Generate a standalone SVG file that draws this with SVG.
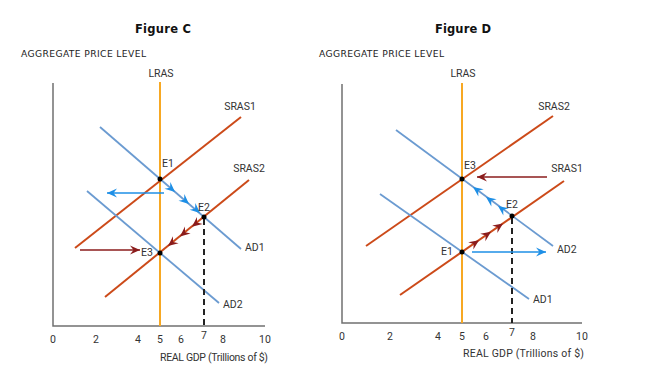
<svg xmlns="http://www.w3.org/2000/svg" width="655" height="383" viewBox="0 0 655 383">
<style>
.title{font-family:"DejaVu Sans","Liberation Sans",sans-serif;font-weight:bold;font-size:11.5px;fill:#111}
.ylab{font-family:"DejaVu Sans","Liberation Sans",sans-serif;font-size:9.2px;fill:#222}
.lab{font-family:Roboto,"Liberation Sans",sans-serif;font-size:10.5px;fill:#333}
.tick{font-family:Roboto,"Liberation Sans",sans-serif;font-size:10.5px;fill:#333;text-anchor:middle}
.axis{stroke:#707070;stroke-width:1.5;fill:none}
.lras{stroke:#f7a823;stroke-width:2;fill:none}
.sras{stroke:#cc4a19;stroke-width:2;fill:none}
.ad{stroke:#6b9bd1;stroke-width:1.8;fill:none}
.dash{stroke:#222;stroke-width:2;stroke-dasharray:6 4;fill:none}
.barr{stroke:#1e8fe6;stroke-width:1.5;fill:none}
.rarr{stroke:#8b1c1c;stroke-width:1.5;fill:none}
.bchev{fill:#1e8fe6}
.rchev{fill:#8b1c1c}
.pt{fill:#000}
</style>
<defs>
<path id="chev" d="M0,0 L-10,-4.5 L-6.5,0 L-10,4.5 Z"/>
<marker id="mb" viewBox="-11 -5 12 10" refX="0" refY="0" markerWidth="12" markerHeight="10" markerUnits="userSpaceOnUse" orient="auto"><path d="M0,0 L-10,-4.5 L-6.5,0 L-10,4.5 Z" fill="#1e8fe6"/></marker>
<marker id="mr" viewBox="-11 -5 12 10" refX="0" refY="0" markerWidth="12" markerHeight="10" markerUnits="userSpaceOnUse" orient="auto"><path d="M0,0 L-10,-4.5 L-6.5,0 L-10,4.5 Z" fill="#8b1c1c"/></marker>
</defs>
<rect width="655" height="383" fill="#fff"/>

<!-- Figure C -->
<g id="figC">
<text class="title" x="135" y="33" textLength="56">Figure C</text>
<text class="ylab" x="21" y="57" textLength="125">AGGREGATE PRICE LEVEL</text>
<g id="axesC">
<path class="axis" d="M53,83 V326 H265"/>
</g>
<g id="ticksC">
<text class="tick" x="53" y="343">0</text>
<text class="tick" x="96" y="343">2</text>
<text class="tick" x="138" y="343">4</text>
<text class="tick" x="160" y="343">5</text>
<text class="tick" x="181" y="343">6</text>
<text class="tick" x="204" y="339">7</text>
<text class="tick" x="223" y="343">8</text>
<text class="tick" x="265" y="343">10</text>
<text class="lab" x="160" y="361" textLength="108">REAL GDP (Trillions of $)</text>
</g>
<g id="connectorsC">
<line class="lras" x1="160" y1="82" x2="160" y2="326"/>
<line class="sras" x1="75" y1="248" x2="241" y2="117"/>
<line class="sras" x1="105" y1="297" x2="249" y2="180"/>
<line class="ad" x1="100" y1="127" x2="241" y2="249"/>
<line class="ad" x1="87" y1="191" x2="219" y2="303"/>
<line class="dash" x1="204" y1="219" x2="204" y2="326"/>
<line class="barr" x1="164" y1="193" x2="107" y2="193" marker-end="url(#mb)"/>
<line class="rarr" x1="80" y1="250" x2="140" y2="250" marker-end="url(#mr)"/>
<use href="#chev" class="bchev" transform="translate(175,192) rotate(40.8)"/>
<use href="#chev" class="bchev" transform="translate(189,204) rotate(40.8)"/>
<use href="#chev" class="bchev" transform="translate(200,213) rotate(40.8)"/>
<use href="#chev" class="rchev" transform="translate(192,226.7) rotate(141)"/>
<use href="#chev" class="rchev" transform="translate(180,236.4) rotate(141)"/>
<use href="#chev" class="rchev" transform="translate(168,246) rotate(141)"/>
</g>
<g id="LRAS_C"><text class="lab" x="161" y="77" text-anchor="middle">LRAS</text></g>
<g id="SRAS1_C"><text class="lab" x="240" y="110" text-anchor="middle">SRAS1</text></g>
<g id="SRAS2_C"><text class="lab" x="249" y="172" text-anchor="middle">SRAS2</text></g>
<g id="AD1_C"><text class="lab" x="245" y="251">AD1</text></g>
<g id="AD2_C"><text class="lab" x="223" y="308">AD2</text></g>
<g id="E1_C"><circle class="pt" cx="160" cy="179" r="2.5"/><text class="lab" x="162" y="167">E1</text></g>
<g id="E2_C"><circle class="pt" cx="204" cy="217" r="2.5"/><text class="lab" x="198" y="211">E2</text></g>
<g id="E3_C"><circle class="pt" cx="160" cy="253" r="2.5"/><text class="lab" x="141" y="256">E3</text></g>
</g>

<!-- Figure D -->
<g id="figD">
<text class="title" x="435" y="33" textLength="56">Figure D</text>
<text class="ylab" x="319" y="57" textLength="125">AGGREGATE PRICE LEVEL</text>
<g id="axesD">
<path class="axis" d="M342,84 V323 H582"/>
</g>
<g id="ticksD">
<text class="tick" x="342" y="340">0</text>
<text class="tick" x="390" y="340">2</text>
<text class="tick" x="438" y="340">4</text>
<text class="tick" x="462" y="340">5</text>
<text class="tick" x="486" y="340">6</text>
<text class="tick" x="512" y="336">7</text>
<text class="tick" x="533" y="340">8</text>
<text class="tick" x="582" y="340">10</text>
<text class="lab" x="463" y="357" textLength="121">REAL GDP (Trillions of $)</text>
</g>
<g id="connectorsD">
<line class="lras" x1="462" y1="83" x2="462" y2="323"/>
<line class="sras" x1="366" y1="246" x2="553" y2="116"/>
<line class="sras" x1="400" y1="295" x2="564" y2="181"/>
<line class="ad" x1="396" y1="130" x2="553" y2="246"/>
<line class="ad" x1="380" y1="194" x2="529" y2="299"/>
<line class="dash" x1="512" y1="218" x2="512" y2="323"/>
<line class="rarr" x1="547" y1="177" x2="477" y2="177" marker-end="url(#mr)"/>
<line class="barr" x1="472" y1="252" x2="546" y2="252" marker-end="url(#mb)"/>
<use href="#chev" class="bchev" transform="translate(473,187) rotate(216.5)"/>
<use href="#chev" class="bchev" transform="translate(486,197) rotate(216.5)"/>
<use href="#chev" class="bchev" transform="translate(498,206) rotate(216.5)"/>
<use href="#chev" class="rchev" transform="translate(479,240.2) rotate(-34.8)"/>
<use href="#chev" class="rchev" transform="translate(491,231.8) rotate(-34.8)"/>
<use href="#chev" class="rchev" transform="translate(503,223.5) rotate(-34.8)"/>
</g>
<g id="LRAS_D"><text class="lab" x="463" y="77" text-anchor="middle">LRAS</text></g>
<g id="SRAS2_D"><text class="lab" x="554" y="110" text-anchor="middle">SRAS2</text></g>
<g id="SRAS1_D"><text class="lab" x="567" y="172" text-anchor="middle">SRAS1</text></g>
<g id="AD2_D"><text class="lab" x="557" y="253">AD2</text></g>
<g id="AD1_D"><text class="lab" x="533" y="303">AD1</text></g>
<g id="E3_D"><circle class="pt" cx="462" cy="179" r="2.5"/><text class="lab" x="464" y="169">E3</text></g>
<g id="E2_D"><circle class="pt" cx="512" cy="216" r="2.5"/><text class="lab" x="506" y="208">E2</text></g>
<g id="E1_D"><circle class="pt" cx="462" cy="252" r="2.5"/><text class="lab" x="441" y="255">E1</text></g>
</g>
</svg>
